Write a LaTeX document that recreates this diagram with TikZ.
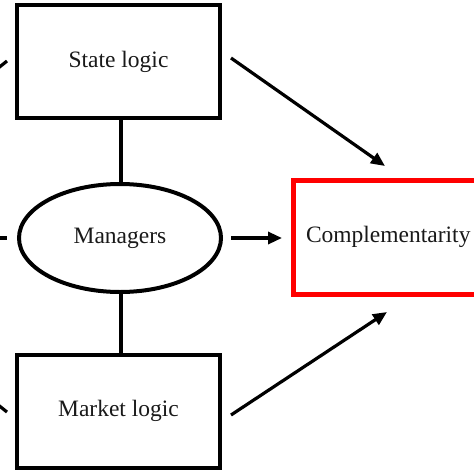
\documentclass[tikz,border=0pt]{standalone}
\usepackage{fontspec}
\setmainfont{Liberation Serif}
\usetikzlibrary{arrows.meta,shapes.geometric}
\begin{document}
\begin{tikzpicture}[x=1pt,y=-1pt,
  lbl/.style={font=\fontsize{23.5}{28}\selectfont, text=black!90},
  logicbox/.style={draw, line width=4pt, rectangle, minimum width=203pt, minimum height=113pt, lbl},
  actor/.style={draw, line width=4pt, ellipse, minimum width=202pt, minimum height=108pt, lbl},
  outcome/.style={draw=red, line width=5pt, rectangle, outer sep=0pt, minimum width=230pt, minimum height=114pt, lbl, text width=205pt, align=left, inner xsep=12.5pt},
  link/.style={line width=3.2pt},
  arr/.style={line width=3.2pt, -{Triangle[length=14pt,width=12pt]}}]
\useasboundingbox (0,0) rectangle (474,474);
\node[logicbox] (state) at (118.5,61.5) {State logic};
\node[actor] (man) at (120,238) {Managers};
\node[logicbox] (market) at (118.5,411) {Market logic};
\node[outcome, anchor=west] (comp) at (293.5,237) {Complementarity};
\draw[link] (state.south -| 121,0) -- (man.north -| 121,0);
\draw[link] (man.south -| 121,0) -- (market.north -| 121,0);
% arrows to the outcome
\coordinate (s1) at (231,58);
\coordinate (s2) at (385,166);
\coordinate (m1) at (231,238);
\coordinate (m2) at (282,238);
\coordinate (k1) at (231,415);
\coordinate (k2) at (387,312);
\draw[arr] (s1) -- (s2);
\draw[arr] (m1) -- (m2);
\draw[arr] (k1) -- (k2);
% partial strokes at the left edge
\coordinate (ls1) at (-3,69);
\coordinate (ls2) at (7,61);
\coordinate (lm1) at (-3,238);
\coordinate (lm2) at (7,238);
\coordinate (lk1) at (-3,404);
\coordinate (lk2) at (7,412);
\draw[link] (ls1) -- (ls2);
\draw[link] (lm1) -- (lm2);
\draw[link] (lk1) -- (lk2);
\end{tikzpicture}
\end{document}
